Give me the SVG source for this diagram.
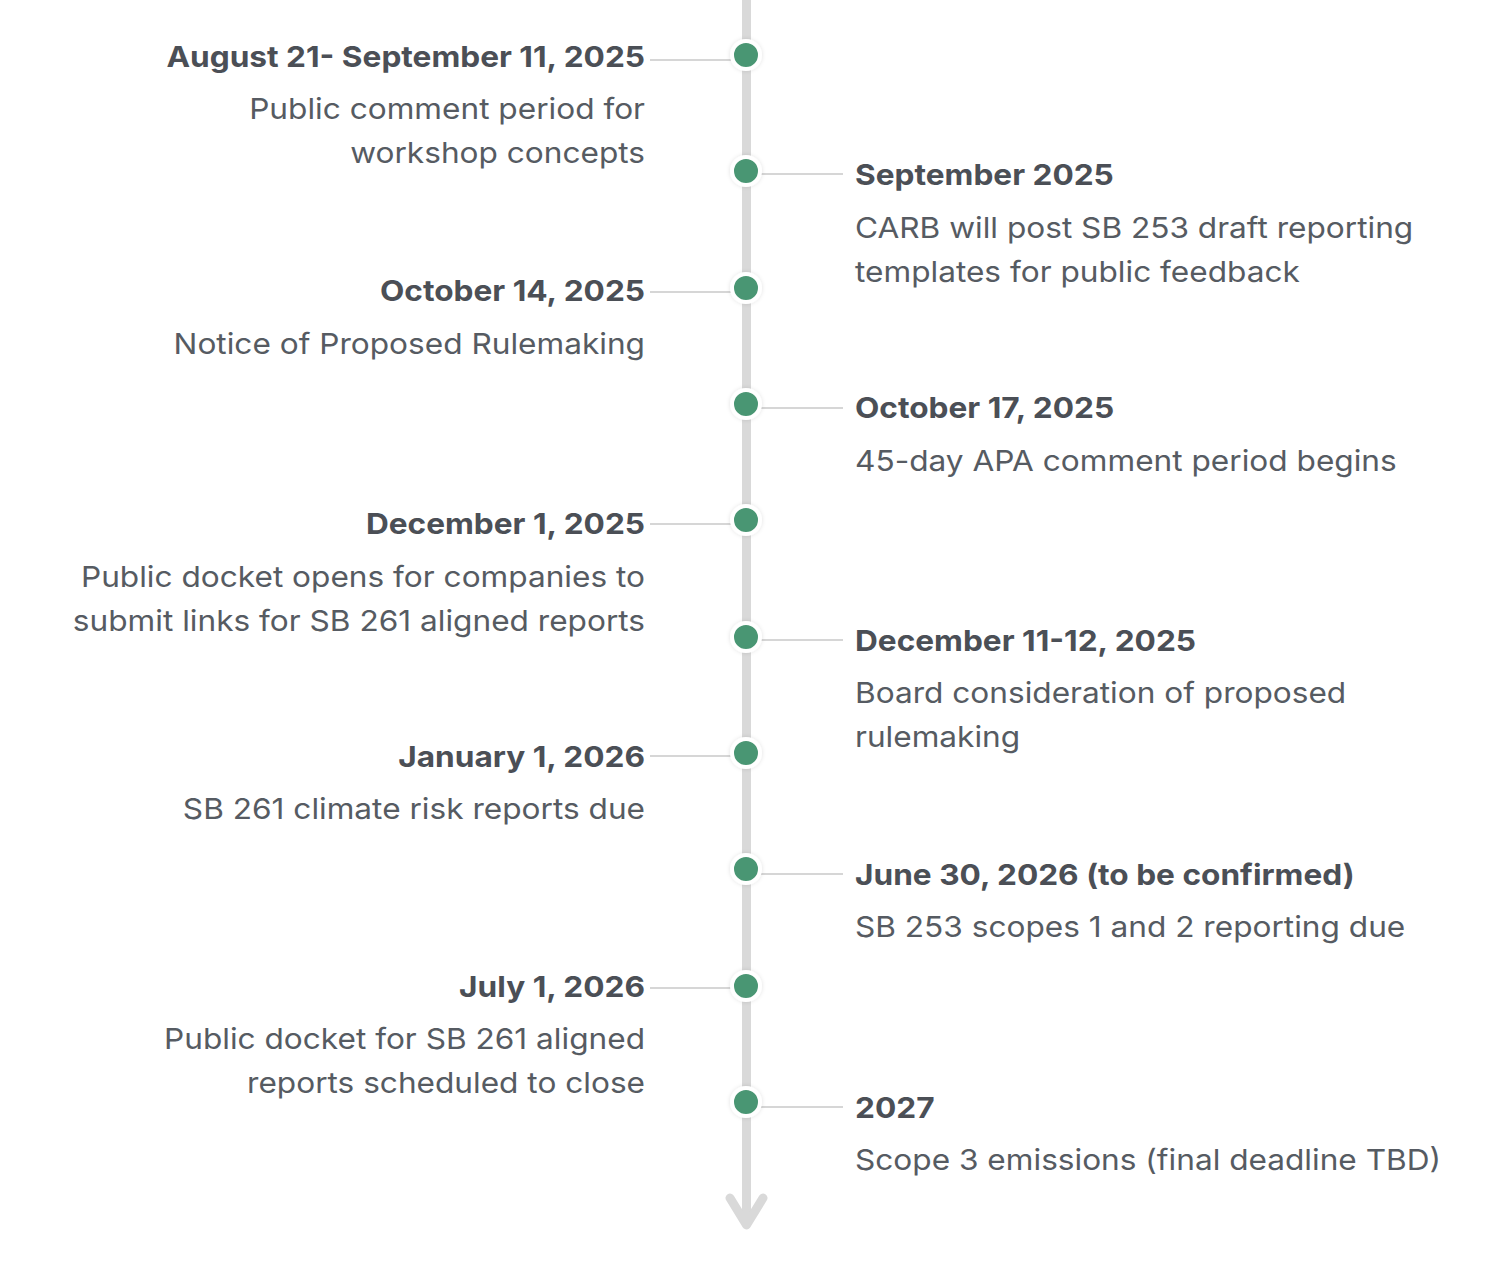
<svg xmlns="http://www.w3.org/2000/svg" width="1500" height="1276" viewBox="0 0 1500 1276">
<style>
.t{font-family:Inter,"Noto Sans",sans-serif;font-weight:700;font-size:29px;fill:#4b4f56}
.b{font-family:Inter,"Noto Sans",sans-serif;font-weight:400;font-size:29px;fill:#565b62}
.l{text-anchor:end}
.c{stroke:#d6d6d6;stroke-width:2;fill:none}
.dot{fill:#4a9673;stroke:#ffffff;stroke-width:4}
</style>
<defs>
<filter id="sh" x="-50%" y="-50%" width="200%" height="200%">
<feDropShadow dx="0" dy="0" stdDeviation="2" flood-color="#000000" flood-opacity="0.12"/>
</filter>
</defs>
<rect width="1500" height="1276" fill="#ffffff"/>
<g id="timeline-axis">
<line x1="746.5" y1="0" x2="746.5" y2="1222" stroke="#d9d9d9" stroke-width="9"/>
<polyline points="730,1198 746.5,1225 763,1198" fill="none" stroke="#d9d9d9" stroke-width="9" stroke-linecap="round" stroke-linejoin="round"/>
</g>
<g id="connectors">
<line class="c" x1="650" y1="60" x2="734" y2="60"/>
<line class="c" x1="760" y1="174" x2="843" y2="174"/>
<line class="c" x1="650" y1="292" x2="734" y2="292"/>
<line class="c" x1="760" y1="408" x2="843" y2="408"/>
<line class="c" x1="650" y1="524" x2="734" y2="524"/>
<line class="c" x1="760" y1="640" x2="843" y2="640"/>
<line class="c" x1="650" y1="756" x2="734" y2="756"/>
<line class="c" x1="760" y1="874" x2="843" y2="874"/>
<line class="c" x1="650" y1="988" x2="734" y2="988"/>
<line class="c" x1="760" y1="1107" x2="843" y2="1107"/>
</g>
<g id="n1">
<circle class="dot" cx="746" cy="55" r="14" filter="url(#sh)"/>
<text class="t l" transform="translate(645,67) scale(1.09,1)">August 21- September 11, 2025</text>
<text class="b l" transform="translate(645,119) scale(1.09,1)">Public comment period for</text>
<text class="b l" transform="translate(645,163) scale(1.09,1)">workshop concepts</text>
</g>
<g id="n2">
<circle class="dot" cx="746" cy="171" r="14" filter="url(#sh)"/>
<text class="t" transform="translate(855,185) scale(1.09,1)">September 2025</text>
<text class="b" transform="translate(855,238) scale(1.09,1)">CARB will post SB 253 draft reporting</text>
<text class="b" transform="translate(855,282) scale(1.09,1)">templates for public feedback</text>
</g>
<g id="n3">
<circle class="dot" cx="746" cy="288" r="14" filter="url(#sh)"/>
<text class="t l" transform="translate(645,301) scale(1.09,1)">October 14, 2025</text>
<text class="b l" transform="translate(645,354) scale(1.09,1)">Notice of Proposed Rulemaking</text>
</g>
<g id="n4">
<circle class="dot" cx="746" cy="404" r="14" filter="url(#sh)"/>
<text class="t" transform="translate(855,418) scale(1.09,1)">October 17, 2025</text>
<text class="b" transform="translate(855,471) scale(1.09,1)">45-day APA comment period begins</text>
</g>
<g id="n5">
<circle class="dot" cx="746" cy="520" r="14" filter="url(#sh)"/>
<text class="t l" transform="translate(645,534) scale(1.09,1)">December 1, 2025</text>
<text class="b l" transform="translate(645,587) scale(1.09,1)">Public docket opens for companies to</text>
<text class="b l" transform="translate(645,631) scale(1.09,1)">submit links for SB 261 aligned reports</text>
</g>
<g id="n6">
<circle class="dot" cx="746" cy="637" r="14" filter="url(#sh)"/>
<text class="t" transform="translate(855,651) scale(1.09,1)">December 11-12, 2025</text>
<text class="b" transform="translate(855,703) scale(1.09,1)">Board consideration of proposed</text>
<text class="b" transform="translate(855,747) scale(1.09,1)">rulemaking</text>
</g>
<g id="n7">
<circle class="dot" cx="746" cy="753" r="14" filter="url(#sh)"/>
<text class="t l" transform="translate(645,767) scale(1.09,1)">January 1, 2026</text>
<text class="b l" transform="translate(645,819) scale(1.09,1)">SB 261 climate risk reports due</text>
</g>
<g id="n8">
<circle class="dot" cx="746" cy="869" r="14" filter="url(#sh)"/>
<text class="t" transform="translate(855,885) scale(1.09,1)">June 30, 2026 (to be confirmed)</text>
<text class="b" transform="translate(855,937) scale(1.09,1)">SB 253 scopes 1 and 2 reporting due</text>
</g>
<g id="n9">
<circle class="dot" cx="746" cy="986" r="14" filter="url(#sh)"/>
<text class="t l" transform="translate(645,997) scale(1.09,1)">July 1, 2026</text>
<text class="b l" transform="translate(645,1049) scale(1.09,1)">Public docket for SB 261 aligned</text>
<text class="b l" transform="translate(645,1093) scale(1.09,1)">reports scheduled to close</text>
</g>
<g id="n10">
<circle class="dot" cx="746" cy="1102" r="14" filter="url(#sh)"/>
<text class="t" transform="translate(855,1118) scale(1.09,1)">2027</text>
<text class="b" transform="translate(855,1170) scale(1.09,1)">Scope 3 emissions (final deadline TBD)</text>
</g>
</svg>
